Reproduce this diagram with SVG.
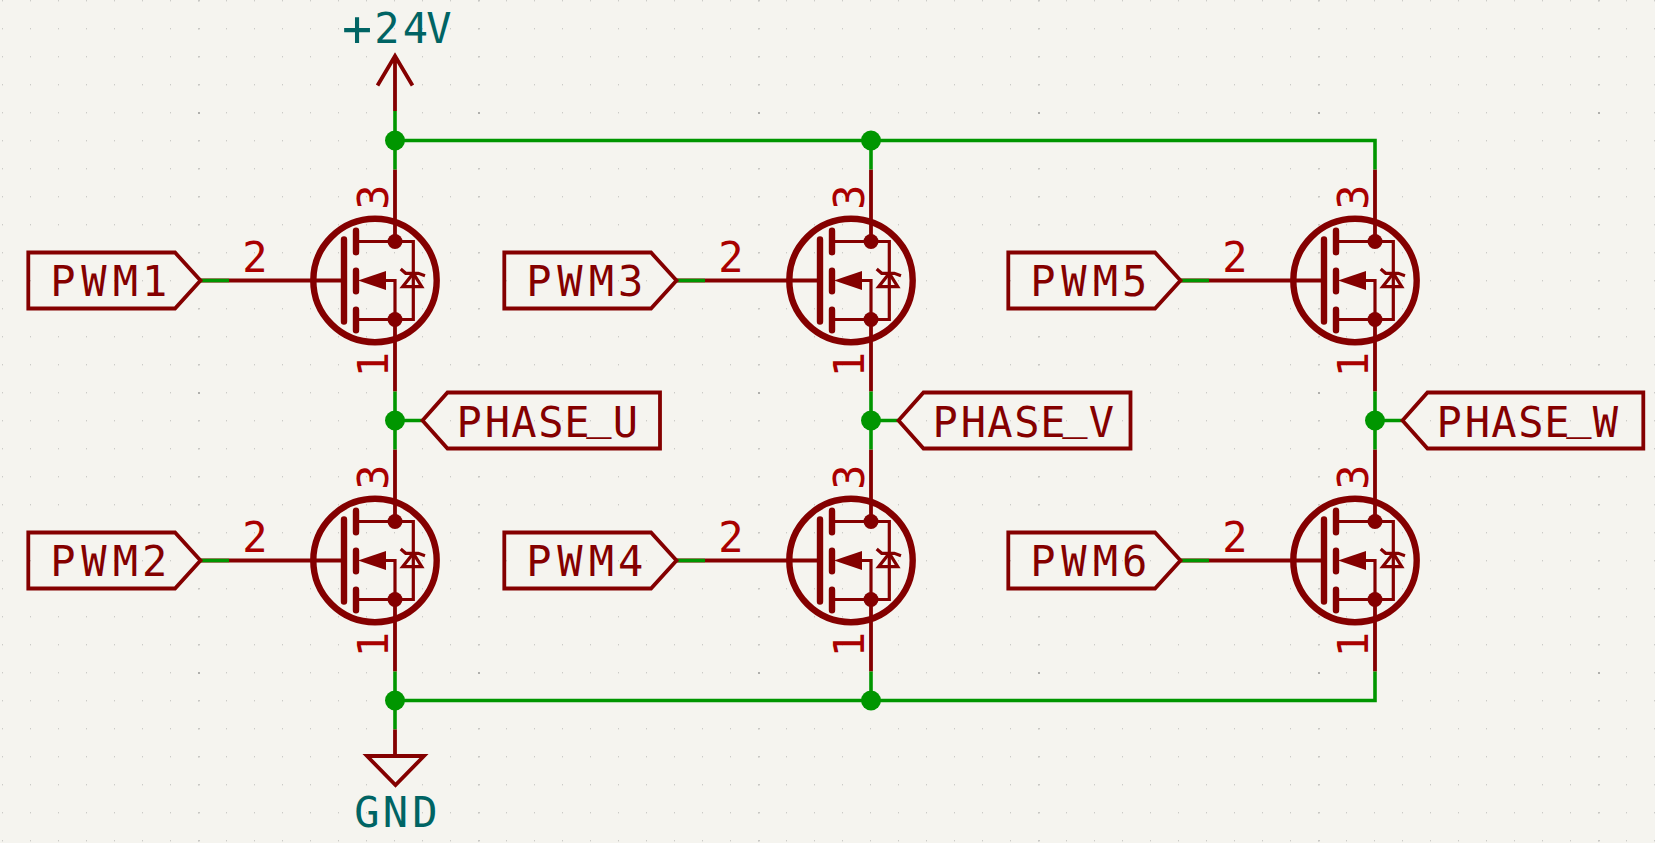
<svg xmlns="http://www.w3.org/2000/svg" xmlns:xlink="http://www.w3.org/1999/xlink" width="1655" height="843" viewBox="0 0 1655 843">
<style>
.wire{fill:none;stroke:#009600;stroke-width:3.6;stroke-linejoin:miter}
.junction{fill:#009600;stroke:none}
.sym{fill:none;stroke:#840000;stroke-linecap:round;stroke-linejoin:miter}
.pin{fill:none;stroke:#840000;stroke-width:3.8}
.thick{stroke-width:6.4}
.thin{stroke-width:3.2;stroke-linecap:butt}
.fill{fill:#840000;stroke:none}
.lbl{fill:none;stroke:#840000;stroke-width:3.8;stroke-linejoin:miter}
text{font-family:"DejaVu Sans Mono","Liberation Mono",monospace;font-size:42px;text-anchor:middle}
.lt{fill:#840000}
.pn{fill:#a90000}
.pw{fill:#006464}
</style>
<defs>
<pattern id="gridBase" width="28" height="28" patternUnits="userSpaceOnUse"><rect x="2" y="0" width="1" height="1.4" fill="#cbcbc7"/></pattern>
<pattern id="gridCol" x="198" y="0" width="280" height="28" patternUnits="userSpaceOnUse"><rect x="0" y="0" width="2" height="1.4" fill="#c8c8c4"/></pattern>
<pattern id="gridMajor" x="198" y="112" width="280" height="280" patternUnits="userSpaceOnUse"><rect x="0" y="0" width="2" height="2" fill="#b0b0ad"/></pattern>
<g id="fet">
<path class="pin" d="M-175 0H-31M20 -111V-39M20 39V111"/>
<circle class="sym thick" r="61.7"/>
<path class="sym thick" d="M-31 -41V41M-19 -49.7V-28.3M-19 -9.7V10.7M-19 29.3V49.7"/>
<path class="sym thin" d="M-19 -39H38.3V39H-19M-4 0H20V39"/>
<path class="fill" d="M-17 0L11 -9.5V9.5Z"/>
<circle class="fill" cx="20" cy="-39" r="7.5"/>
<circle class="fill" cx="20" cy="39" r="7.5"/>
<path class="sym thin" d="M25.7 -11.5L30.7 -7.2H43.3L50 -4.8M38.3 -7.2L27.7 6.2H46.7Z"/>
</g>
</defs>
<rect width="1655" height="843" fill="#f5f4ef"/>
<rect width="1655" height="843" fill="url(#gridBase)"/>
<rect width="1655" height="843" fill="url(#gridCol)"/>
<rect width="1655" height="843" fill="url(#gridMajor)"/>

<g id="Q1" transform="translate(375 280.5)"><use href="#fet" xlink:href="#fet"/><text class="pn" x="-120" y="-8.5">2</text><text class="pn" transform="translate(13 -83.5) rotate(-90)">3</text><text class="pn" transform="translate(13 84) rotate(-90)">1</text></g>
<g id="Q2" transform="translate(375 560.5)"><use href="#fet" xlink:href="#fet"/><text class="pn" x="-120" y="-8.5">2</text><text class="pn" transform="translate(13 -83.5) rotate(-90)">3</text><text class="pn" transform="translate(13 84) rotate(-90)">1</text></g>
<g id="Q3" transform="translate(851 280.5)"><use href="#fet" xlink:href="#fet"/><text class="pn" x="-120" y="-8.5">2</text><text class="pn" transform="translate(13 -83.5) rotate(-90)">3</text><text class="pn" transform="translate(13 84) rotate(-90)">1</text></g>
<g id="Q4" transform="translate(851 560.5)"><use href="#fet" xlink:href="#fet"/><text class="pn" x="-120" y="-8.5">2</text><text class="pn" transform="translate(13 -83.5) rotate(-90)">3</text><text class="pn" transform="translate(13 84) rotate(-90)">1</text></g>
<g id="Q5" transform="translate(1355 280.5)"><use href="#fet" xlink:href="#fet"/><text class="pn" x="-120" y="-8.5">2</text><text class="pn" transform="translate(13 -83.5) rotate(-90)">3</text><text class="pn" transform="translate(13 84) rotate(-90)">1</text></g>
<g id="Q6" transform="translate(1355 560.5)"><use href="#fet" xlink:href="#fet"/><text class="pn" x="-120" y="-8.5">2</text><text class="pn" transform="translate(13 -83.5) rotate(-90)">3</text><text class="pn" transform="translate(13 84) rotate(-90)">1</text></g>

<g id="connectors">
<path class="wire" d="M395 111V169.5M395 140.5H1375V169.5M871 140.5V169.5"/>
<path class="wire" d="M395 391.5V449.5M871 391.5V449.5M1375 391.5V449.5"/>
<path class="wire" d="M395 420.5H422.5M871 420.5H898.5M1375 420.5H1402.5"/>
<path class="wire" d="M395 671.5V729.5M395 700.5H1375V671.5M871 671.5V700.5"/>
<path class="wire" d="M200.5 280.5H229M200.5 560.5H229M676.5 280.5H705M676.5 560.5H705M1180.5 280.5H1209M1180.5 560.5H1209"/>
<circle class="junction" cx="395" cy="140.5" r="10"/>
<circle class="junction" cx="871" cy="140.5" r="10"/>
<circle class="junction" cx="395" cy="420.5" r="10"/>
<circle class="junction" cx="871" cy="420.5" r="10"/>
<circle class="junction" cx="1375" cy="420.5" r="10"/>
<circle class="junction" cx="395" cy="700.5" r="10"/>
<circle class="junction" cx="871" cy="700.5" r="10"/>
</g>

<g id="PWR_24V">
<path class="pin" d="M395 111V56M377.5 85.5L395 56L412.5 85.5"/>
<text class="pw"><tspan font-size="50" x="357" y="46">+</tspan><tspan x="387 415.5 439" y="42.7">24V</tspan></text>
</g>
<g id="PWR_GND">
<path class="pin" d="M395 729.5V756"/>
<path class="lbl" d="M367 756H424L395.5 785Z"/>
<text class="pw" x="367 395.5 425" y="826.7">GND</text>
</g>

<g id="PWM1"><path class="lbl" d="M28.3 252.5H175L200.5 280.5L175 308.5H28.3Z"/><text class="lt" x="63 94 125.5 154.6" y="296">PWM1</text></g>
<g id="PWM2"><path class="lbl" d="M28.3 532.5H175L200.5 560.5L175 588.5H28.3Z"/><text class="lt" x="63 94 125.5 154.6" y="576">PWM2</text></g>
<g id="PWM3"><path class="lbl" d="M504.3 252.5H651L676.5 280.5L651 308.5H504.3Z"/><text class="lt" x="539 570 601.5 630.6" y="296">PWM3</text></g>
<g id="PWM4"><path class="lbl" d="M504.3 532.5H651L676.5 560.5L651 588.5H504.3Z"/><text class="lt" x="539 570 601.5 630.6" y="576">PWM4</text></g>
<g id="PWM5"><path class="lbl" d="M1008.3 252.5H1155L1180.5 280.5L1155 308.5H1008.3Z"/><text class="lt" x="1043 1074 1105.5 1134.6" y="296">PWM5</text></g>
<g id="PWM6"><path class="lbl" d="M1008.3 532.5H1155L1180.5 560.5L1155 588.5H1008.3Z"/><text class="lt" x="1043 1074 1105.5 1134.6" y="576">PWM6</text></g>

<g id="PHASE_U"><path class="lbl" d="M422.5 420.5L447.5 392.5H660V448.5H447.5Z"/><text class="lt" x="469.2 497.3 524 551 577 599 625.5" y="437 437 437 437 437 429 437">PHASE_U</text></g>
<g id="PHASE_V"><path class="lbl" d="M898.5 420.5L923.5 392.5H1130.5V448.5H923.5Z"/><text class="lt" x="945.2 973.3 1000 1027 1053 1075 1101.5" y="437 437 437 437 437 429 437">PHASE_V</text></g>
<g id="PHASE_W"><path class="lbl" d="M1402.5 420.5L1427.5 392.5H1643.3V448.5H1427.5Z"/><text class="lt" x="1449.2 1477.3 1504 1531 1557 1579 1605.5" y="437 437 437 437 437 429 437">PHASE_W</text></g>
</svg>
